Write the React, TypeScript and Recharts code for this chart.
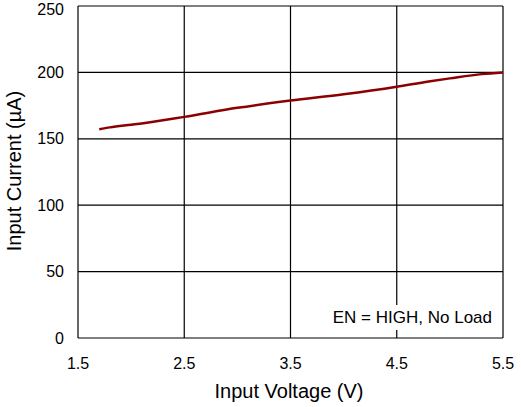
import { LineChart, Line, XAxis, YAxis, CartesianGrid, Label, Customized } from 'recharts';

const voltage = [1.7, 1.8, 2.0, 2.1, 2.5, 3.0, 3.5, 4.0, 4.5, 4.8, 5.0, 5.3, 5.5];
const current = [157.2, 158.6, 160.6, 161.6, 166.5, 173.3, 178.8, 183.5, 189.2, 193.2, 195.5, 198.7, 200.0];
const xTicks = [1.5, 2.5, 3.5, 4.5, 5.5];
const yTicks = [0, 50, 100, 150, 200, 250];

const data = voltage.map((v, i) => ({ v, i: current[i] }));

const FONT = '"Liberation Sans", Arial, sans-serif';

function Note() {
  return (
    <g>
      <rect x={332} y={305} width={163} height={25} fill="#fff" />
      <text x={492} y={323} textAnchor="end" fontSize={17} fontFamily={FONT} fill="#000">
        EN = HIGH, No Load
      </text>
    </g>
  );
}

export default function App() {
  return (
    <div>
      <style>{'body{margin:0}'}</style>
      <LineChart width={521} height={407} data={data} margin={{ top: 6, right: 18, bottom: 0, left: 0 }}>
        <CartesianGrid stroke="#000" strokeWidth={1.2} />
        <XAxis
          dataKey="v"
          type="number"
          domain={[1.5, 5.5]}
          ticks={xTicks}
          tickFormatter={(t: number) => t.toFixed(1)}
          axisLine={false}
          tickLine={false}
          tickSize={0}
          tickMargin={20}
          height={69}
          tick={{ fill: '#000', fontSize: 16, fontFamily: FONT }}
        >
          <Label
            content={() => (
              <text x={289} y={398} textAnchor="middle" fontSize={20} fontFamily={FONT} fill="#000">
                Input Voltage (V)
              </text>
            )}
          />
        </XAxis>
        <YAxis
          type="number"
          domain={[0, 250]}
          ticks={yTicks}
          axisLine={false}
          tickLine={false}
          tickSize={0}
          tickMargin={14}
          width={78}
          tick={{ fill: '#000', fontSize: 16, fontFamily: FONT }}
        >
          <Label
            content={() => (
              <text
                x={21}
                y={171}
                transform="rotate(-90 21 171)"
                textAnchor="middle"
                fontSize={20}
                fontFamily={FONT}
                fill="#000"
              >
                Input Current (µA)
              </text>
            )}
          />
        </YAxis>
        <Customized component={Note} />
        <Line
          dataKey="i"
          type="monotone"
          stroke="#8B0000"
          strokeWidth={2.5}
          dot={false}
          isAnimationActive={false}
        />
      </LineChart>
    </div>
  );
}
